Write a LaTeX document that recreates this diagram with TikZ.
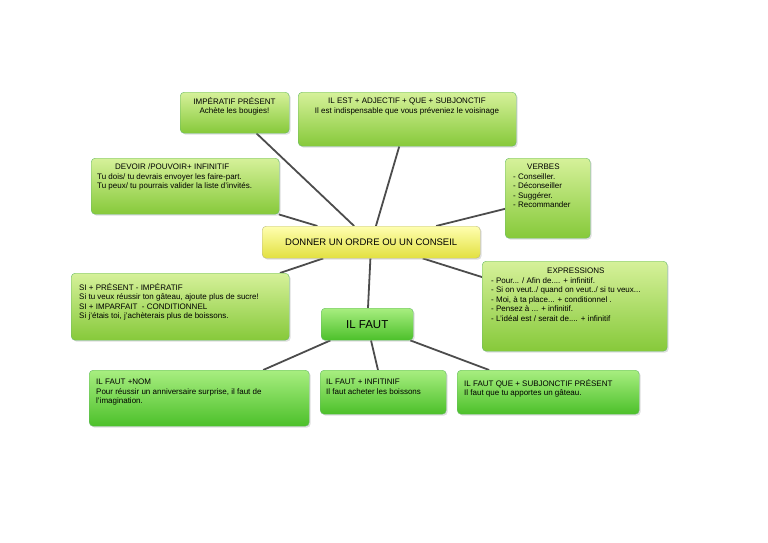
\documentclass[tikz,border=0pt]{standalone}
\usepackage{fontspec}
\setmainfont{Liberation Sans}
\usetikzlibrary{shadows,backgrounds}
\begin{document}
\begin{tikzpicture}[x=1pt,y=-1pt,
 box/.style={anchor=north west,rounded corners=4pt,draw=green!55!black!60,top color=lgA,bottom color=lgB,drop shadow={opacity=0.25,shadow xshift=1.5pt,shadow yshift=-1.5pt}},
 gbox/.style={box,top color=gA,bottom color=gB},
 ybox/.style={box,draw=yellow!50!black!60,top color=yA,bottom color=yB},
 txt/.style={anchor=north,font=\fontsize{8}{9.5}\selectfont,inner sep=0pt,align=center},
 ltxt/.style={anchor=north west,font=\fontsize{8}{9.5}\selectfont,inner sep=0pt,align=left},
 link/.style={draw=black!70,line width=1.8pt}]
\definecolor{lgA}{HTML}{D6F19A}\definecolor{lgB}{HTML}{86C93A}
\definecolor{gA}{HTML}{A8EE80}\definecolor{gB}{HTML}{4CC02A}
\definecolor{yA}{HTML}{FFFFB0}\definecolor{yB}{HTML}{E2E040}
\useasboundingbox (0,0) rectangle (768,543);
% boxes
\node[box,minimum width=109,minimum height=41] (imp) at (180,92) {};
\node[txt] at (234.5,97) {IMPÉRATIF PRÉSENT\\Achète les bougies!};
\node[box,minimum width=218,minimum height=54] (est) at (298,92) {};
\node[txt] at (407,98) {IL EST + ADJECTIF + QUE + SUBJONCTIF\\Il est indispensable que vous préveniez le voisinage};
\node[box,minimum width=188,minimum height=56] (dev) at (91,158) {};
\node[ltxt] at (97,164) {\hspace*{18pt}DEVOIR /POUVOIR+ INFINITIF\\Tu dois/ tu devrais envoyer les faire-part.\\Tu peux/ tu pourrais valider la liste d'invités.};
\node[box,minimum width=85,minimum height=80] (ver) at (505,158) {};
\node[ltxt] at (513,164) {\hspace*{14pt}VERBES\\- Conseiller.\\- Déconseiller\\- Suggérer.\\- Recommander};
\node[ybox,minimum width=218,minimum height=32] (c) at (262,226) {};
\node[font=\fontsize{9.5}{10}\selectfont] at (c.center) {DONNER UN ORDRE OU UN CONSEIL};
\node[box,minimum width=218,minimum height=67] (si) at (71,273) {};
\node[ltxt] at (79,283) {SI + PRÉSENT - IMPÉRATIF\\Si tu veux réussir ton gâteau, ajoute plus de sucre!\\SI + IMPARFAIT \ - CONDITIONNEL\\Si j'étais toi, j'achèterais plus de boissons.};
\node[box,minimum width=185,minimum height=90] (exp) at (482,261) {};
\node[ltxt] at (491,268) {\hspace*{56pt}EXPRESSIONS\\- Pour... / Afin de.... + infinitif.\\- Si on veut../ quand on veut../ si tu veux...\\- Moi, à ta place... + conditionnel .\\- Pensez à ... + infinitif.\\- L'idéal est / serait de.... + infinitif};
\node[gbox,minimum width=92,minimum height=32] (f) at (321,308) {};
\node[font=\fontsize{11.5}{12}\selectfont] at (f.center) {IL FAUT};
\node[gbox,minimum width=220,minimum height=56] (nom) at (89,370) {};
\node[ltxt] at (96,379) {IL FAUT +NOM\\Pour réussir un anniversaire surprise, il faut de\\l'imagination.};
\node[gbox,minimum width=126,minimum height=44] (inf) at (320,370) {};
\node[ltxt] at (326,379) {IL FAUT + INFITINIF\\Il faut acheter les boissons};
\node[gbox,minimum width=182,minimum height=44] (que) at (457,370) {};
\node[ltxt] at (464,379) {IL FAUT QUE + SUBJONCTIF PRÉSENT\\Il faut que tu apportes un gâteau.};
\begin{pgfonlayer}{background}
\draw[link] (imp) -- (c);
\draw[link] (est) -- (c);
\draw[link] (dev) -- (c);
\draw[link] (ver) -- (c);
\draw[link] (si) -- (c);
\draw[link] (exp) -- (c);
\draw[link] (f) -- (c);
\draw[link] (f) -- (nom);
\draw[link] (f) -- (inf);
\draw[link] (f) -- (que);
\end{pgfonlayer}
\end{tikzpicture}
\end{document}
